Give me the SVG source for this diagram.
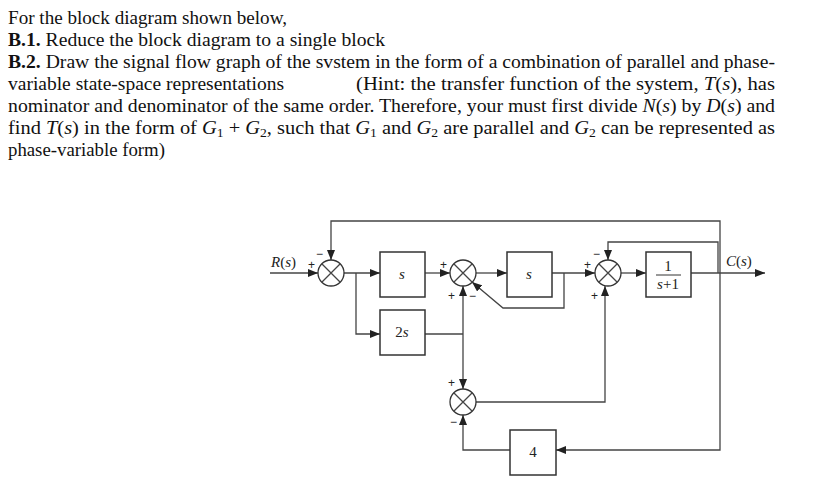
<svg xmlns="http://www.w3.org/2000/svg" width="835" height="492" viewBox="0 0 835 492">
<defs>
<marker id="a" viewBox="0 0 10 8" refX="10" refY="4" markerWidth="10" markerHeight="8" markerUnits="userSpaceOnUse" orient="auto"><path d="M0,0L10,4L0,8z" fill="#222"/></marker>
</defs>
<style>
.t{font-family:"Liberation Serif",serif;font-size:18px;fill:#111}
.l{font-family:"Liberation Serif",serif;font-size:15px;fill:#222}
.s{font-family:"Liberation Sans",sans-serif;font-size:12px;fill:#222}
.b{fill:#fff;stroke:#333;stroke-width:1.5}
.w{fill:none;stroke:#444;stroke-width:1.3}
.c{fill:#fff;stroke:#333;stroke-width:1.3}
</style>
<rect width="835" height="492" fill="#fff"/>
<g id="text">
<text class="t" x="8" y="24" textLength="279" lengthAdjust="spacingAndGlyphs">For the block diagram shown below,</text>
<text class="t" x="8" y="46" textLength="377" lengthAdjust="spacingAndGlyphs"><tspan font-weight="bold">B.1.</tspan> Reduce the block diagram to a single block</text>
<text class="t" x="8" y="68" textLength="767" lengthAdjust="spacingAndGlyphs"><tspan font-weight="bold">B.2.</tspan> Draw the signal flow graph of the svstem in the form of a combination of parallel and phase-</text>
<text class="t" x="8" y="90" textLength="276" lengthAdjust="spacingAndGlyphs">variable state-space representations</text>
<text class="t" x="356" y="90" textLength="419" lengthAdjust="spacingAndGlyphs">(Hint: the transfer function of the system, <tspan font-style="italic">T</tspan>(<tspan font-style="italic">s</tspan>), has</text>
<text class="t" x="8" y="112" textLength="767" lengthAdjust="spacingAndGlyphs">nominator and denominator of the same order. Therefore, your must first divide <tspan font-style="italic">N</tspan>(<tspan font-style="italic">s</tspan>) by <tspan font-style="italic">D</tspan>(<tspan font-style="italic">s</tspan>) and</text>
<text class="t" x="8" y="134" textLength="767" lengthAdjust="spacingAndGlyphs">find <tspan font-style="italic">T</tspan>(<tspan font-style="italic">s</tspan>) in the form of <tspan font-style="italic">G</tspan><tspan font-size="12" dy="3">1</tspan><tspan dy="-3"> + </tspan><tspan font-style="italic">G</tspan><tspan font-size="12" dy="3">2</tspan><tspan dy="-3">, such that </tspan><tspan font-style="italic">G</tspan><tspan font-size="12" dy="3">1</tspan><tspan dy="-3"> and </tspan><tspan font-style="italic">G</tspan><tspan font-size="12" dy="3">2</tspan><tspan dy="-3"> are parallel and </tspan><tspan font-style="italic">G</tspan><tspan font-size="12" dy="3">2</tspan><tspan dy="-3"> can be represented as</tspan></text>
<text class="t" x="8" y="156" textLength="157" lengthAdjust="spacingAndGlyphs">phase-variable form)</text>
</g>
<g id="connectors" class="w">
<path d="M270,273H318" marker-end="url(#a)"/>
<path d="M344,273H380" marker-end="url(#a)"/>
<path d="M356,273V334H380" marker-end="url(#a)"/>
<path d="M425,273H450" marker-end="url(#a)"/>
<path d="M476,273H507" marker-end="url(#a)"/>
<path d="M552,273H595" marker-end="url(#a)"/>
<path d="M564,273V308H503L472,282" marker-end="url(#a)"/>
<path d="M621,273H646" marker-end="url(#a)"/>
<path d="M691,273H765" marker-end="url(#a)"/>
<path d="M425,334H463"/>
<path d="M463,334V286" marker-end="url(#a)"/>
<path d="M463,334V389" marker-end="url(#a)"/>
<path d="M476,402H605V286" marker-end="url(#a)"/>
<path d="M510,450H463V415" marker-end="url(#a)"/>
<path d="M720,273V450H556" marker-end="url(#a)"/>
<path d="M720,273V221H331V260" marker-end="url(#a)"/>
<path d="M718,273V242H608V260" marker-end="url(#a)"/>
</g>
<g id="sum1"><circle class="c" cx="331" cy="273" r="13"/><path class="w" d="M322,264l18,18M340,264l-18,18"/></g>
<g id="sum2"><circle class="c" cx="463" cy="273" r="13"/><path class="w" d="M454,264l18,18M472,264l-18,18"/></g>
<g id="sum3"><circle class="c" cx="608" cy="273" r="13"/><path class="w" d="M599,264l18,18M617,264l-18,18"/></g>
<g id="sum4"><circle class="c" cx="463" cy="402" r="13"/><path class="w" d="M454,393l18,18M472,393l-18,18"/></g>
<g id="blockS1"><rect class="b" x="380" y="252" width="45" height="45"/><text class="l" x="402" y="279" text-anchor="middle" font-style="italic">s</text></g>
<g id="block2s"><rect class="b" x="380" y="310" width="45" height="45"/><text class="l" x="402" y="337" text-anchor="middle">2<tspan font-style="italic">s</tspan></text></g>
<g id="blockS2"><rect class="b" x="507" y="252" width="45" height="45"/><text class="l" x="529" y="279" text-anchor="middle" font-style="italic">s</text></g>
<g id="blockG"><rect class="b" x="646" y="252" width="45" height="45"/><text class="l" x="668" y="271" text-anchor="middle" font-size="13">1</text><path d="M656,275H681" stroke="#333"/><text class="l" x="668" y="289" text-anchor="middle" font-size="14"><tspan font-style="italic">s</tspan>+1</text></g>
<g id="block4"><rect class="b" x="510" y="430" width="46" height="45"/><text class="l" x="533" y="457" text-anchor="middle">4</text></g>
<g id="labels">
<text class="l" x="271" y="267"><tspan font-style="italic">R</tspan>(<tspan font-style="italic">s</tspan>)</text>
<text class="l" x="726" y="266"><tspan font-style="italic">C</tspan>(<tspan font-style="italic">s</tspan>)</text>
<text class="s" x="308" y="269">+</text><text class="s" x="316" y="258">−</text>
<text class="s" x="440" y="269">+</text><text class="s" x="448" y="300">+</text><text class="s" x="469" y="300">−</text>
<text class="s" x="584" y="269">+</text><text class="s" x="593" y="258">−</text><text class="s" x="591" y="300">+</text>
<text class="s" x="448" y="387">+</text><text class="s" x="450" y="426">−</text>
</g>
</svg>
